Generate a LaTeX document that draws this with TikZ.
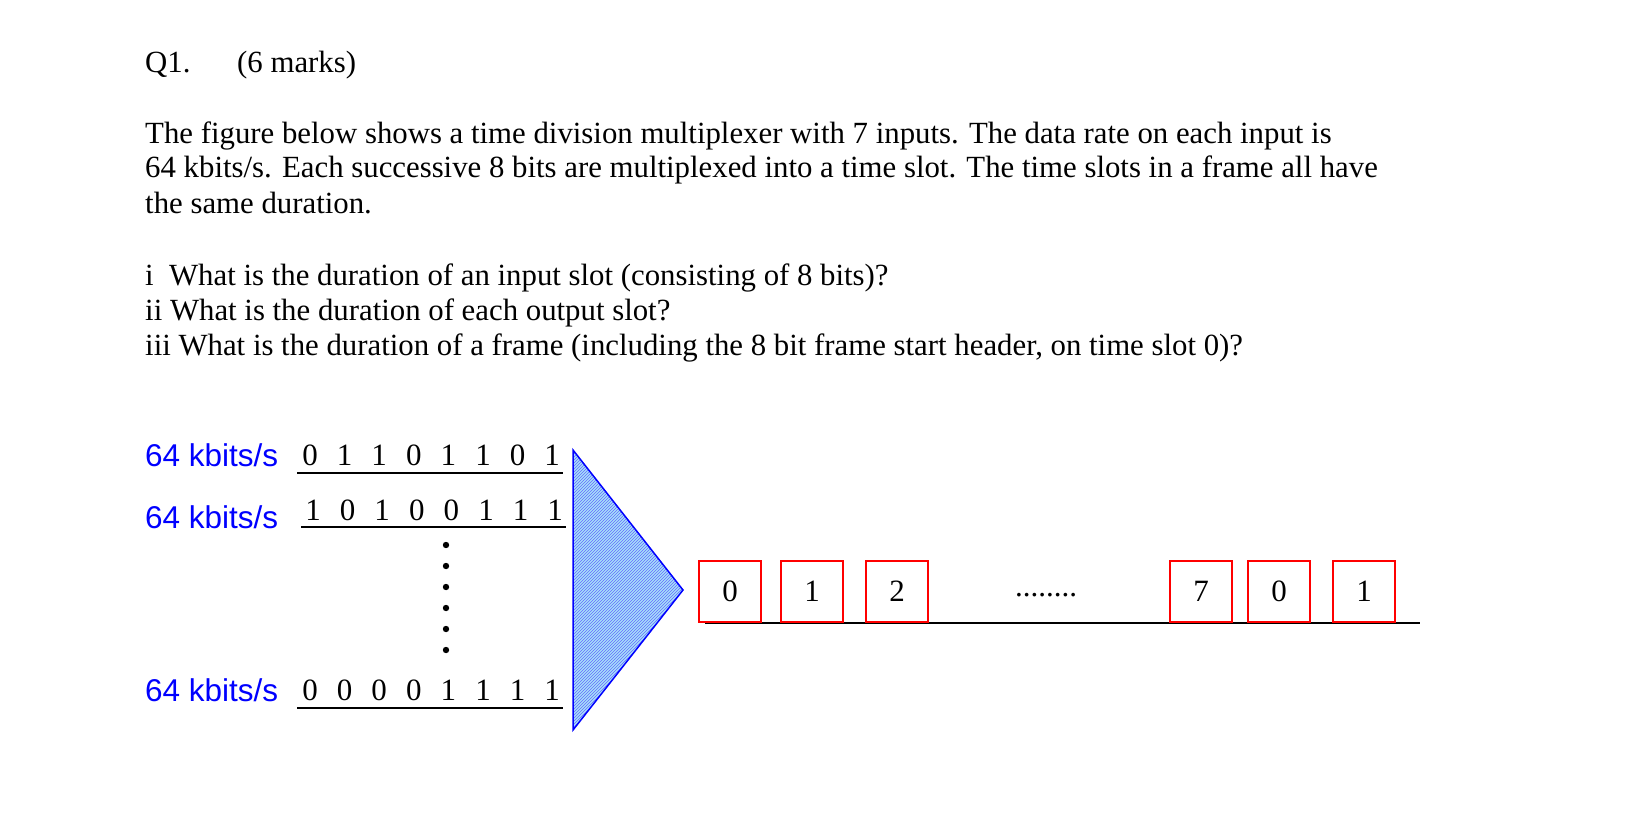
\documentclass[tikz,border=0pt]{standalone}
\usepackage{fontspec}
\setmainfont{Liberation Serif}
\newfontfamily\lab{Liberation Sans}
\usetikzlibrary{patterns}
\begin{document}
\begin{tikzpicture}[x=1pt,y=-1pt,
  txt/.style={anchor=base west,inner sep=0pt,font=\fontsize{30.8}{33}\selectfont},
  rate/.style={anchor=base west,inner sep=0pt,font=\lab\fontsize{31.5}{33}\selectfont,text=blue},
  bit/.style={anchor=base,inner sep=0pt,font=\fontsize{31}{33}\selectfont},
  slot/.style={draw=red,line width=1.2pt,minimum width=62pt,minimum height=61pt,inner sep=0pt,font=\fontsize{31}{33}\selectfont}]
\useasboundingbox (0,0) rectangle (1625,824);
\node[txt] (q) at (145,73) {Q1.};
\node[txt] (m) at (237,73) {(6 marks)};
\node[txt] (p1) at (145,143) {The figure below shows a time division multiplexer with 7 inputs. The data rate on each input is};
\node[txt] (p2) at (145,178) {64 kbits/s. Each successive 8 bits are multiplexed into a time slot. The time slots in a frame all have};
\node[txt] (p3) at (145,213) {the same duration.};
\node[txt] (i1) at (145,285) {i\ \ What is the duration of an input slot (consisting of 8 bits)?};
\node[txt] (i2) at (145,320) {ii What is the duration of each output slot?};
\node[txt] (i3) at (145,355) {iii What is the duration of a frame (including the 8 bit frame start header, on time slot 0)?};
% inputs
\node[rate] (r1) at (145,466) {64 kbits/s};
\node[rate] (r2) at (145,528) {64 kbits/s};
\node[rate] (r3) at (145,701) {64 kbits/s};
\foreach \b [count=\k] in {0,1,1,0,1,1,0,1} \node[bit] (a\k) at (310+34.6*\k-34.6,465) {\b};
\foreach \b [count=\k] in {1,0,1,0,0,1,1,1} \node[bit] (b\k) at (313+34.6*\k-34.6,520) {\b};
\foreach \b [count=\k] in {0,0,0,0,1,1,1,1} \node[bit] (c\k) at (310+34.6*\k-34.6,700) {\b};
\draw[line width=2.2pt] (297,473) coordinate (l1a) -- (563,473) coordinate (l1b);
\draw[line width=2.2pt] (301,527) coordinate (l2a) -- (566,527) coordinate (l2b);
\draw[line width=2.2pt] (297,708) coordinate (l3a) -- (563,708) coordinate (l3b);
\foreach \y in {545,566,587,608,629,650} \fill (446,\y) circle (3.2pt);
% mux
\coordinate (t1) at (573,450); \coordinate (t2) at (683,590); \coordinate (t3) at (573,730);
\fill[cyan!35!white] (t1) -- (t2) -- (t3) -- cycle;
\fill[pattern=north east lines,pattern color=blue!60] (t1) -- (t2) -- (t3) -- cycle;
\draw[blue,line width=1.5pt] (t1) -- (t2) -- (t3) -- cycle;
% output
\draw[line width=1.2pt] (705,623) coordinate (oa) -- (1420,623) coordinate (ob);
\node[slot] (s0) at (730,591.5) {0};
\node[slot] (s1) at (812,591.5) {1};
\node[slot] (s2) at (897,591.5) {2};
\node[anchor=base,inner sep=0pt,font=\fontsize{31}{33}\selectfont] (dd) at (1046,596) {........};
\node[slot] (s7) at (1201,591.5) {7};
\node[slot] (s8) at (1279,591.5) {0};
\node[slot] (s9) at (1364,591.5) {1};
\end{tikzpicture}
\end{document}
